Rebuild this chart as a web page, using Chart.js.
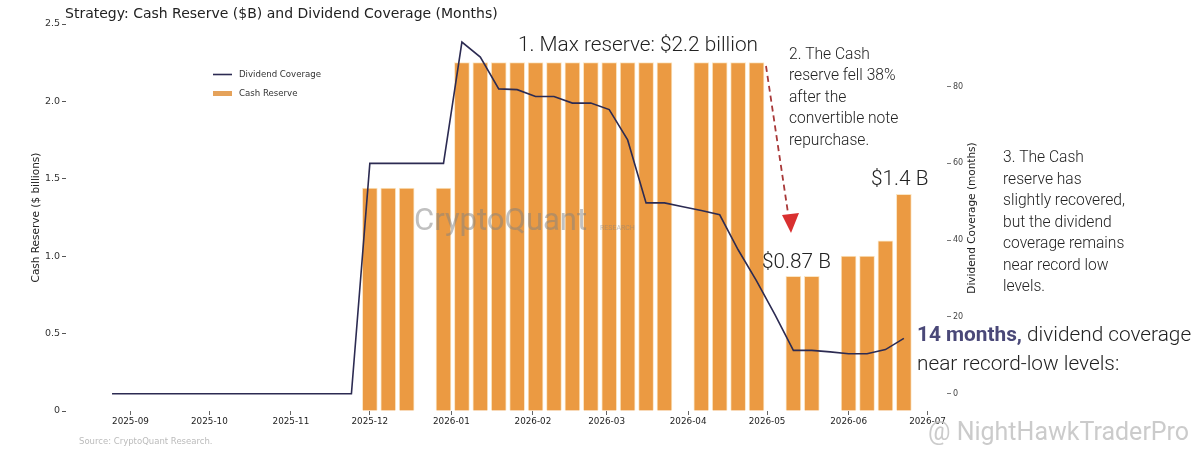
<!DOCTYPE html>
<html>
<head>
<meta charset="utf-8">
<script src="https://cdn.jsdelivr.net/npm/chart.js@4.4.1/dist/chart.umd.min.js"></script>
<style>
body { margin: 0; background: #fff; }
#wrap { width: 1200px; height: 458px; position: relative; }
</style>
</head>
<body>
<div id="wrap"><canvas id="mycanvas"></canvas></div>
<script>
// weekly cash reserve bars ($ billions)
var barDates = [
	'2025-12-01', '2025-12-08', '2025-12-15', '2025-12-29',
	'2026-01-05', '2026-01-12', '2026-01-19', '2026-01-26',
	'2026-02-02', '2026-02-09', '2026-02-16', '2026-02-23',
	'2026-03-02', '2026-03-09', '2026-03-16', '2026-03-23',
	'2026-04-06', '2026-04-13', '2026-04-20', '2026-04-27',
	'2026-05-11', '2026-05-18',
	'2026-06-01', '2026-06-08', '2026-06-15', '2026-06-22'
];
var cashReserve = [
	1.44, 1.44, 1.44, 1.44,
	2.25, 2.25, 2.25, 2.25,
	2.25, 2.25, 2.25, 2.25,
	2.25, 2.25, 2.25, 2.25,
	2.25, 2.25, 2.25, 2.25,
	0.87, 0.87,
	1.00, 1.00, 1.10, 1.40
];

// dividend coverage line (months)
var lineDates = [
	'2025-08-25', '2025-09-01', '2025-09-08', '2025-09-15', '2025-09-22', '2025-09-29',
	'2025-10-06', '2025-10-13', '2025-10-20', '2025-10-27',
	'2025-11-03', '2025-11-10', '2025-11-17', '2025-11-24',
	'2025-12-01', '2025-12-08', '2025-12-15', '2025-12-22', '2025-12-29',
	'2026-01-05', '2026-01-12', '2026-01-19', '2026-01-26',
	'2026-02-02', '2026-02-09', '2026-02-16', '2026-02-23',
	'2026-03-02', '2026-03-09', '2026-03-16', '2026-03-23', '2026-03-30',
	'2026-04-06', '2026-04-13', '2026-04-20', '2026-04-27',
	'2026-05-04', '2026-05-11', '2026-05-18', '2026-05-25',
	'2026-06-01', '2026-06-08', '2026-06-15', '2026-06-22'
];
var coverage = [
	0, 0, 0, 0, 0, 0,
	0, 0, 0, 0,
	0, 0, 0, 0,
	60, 60, 60, 60, 60,
	91.6, 87.7, 79.4, 79.2,
	77.4, 77.4, 75.7, 75.7,
	74.0, 66.1, 49.7, 49.7, 48.7,
	47.7, 46.6, 37.5, 29.4,
	20.6, 11.3, 11.3, 10.9,
	10.4, 10.4, 11.5, 14.4
];

var xTickLabels = ['2025-09', '2025-10', '2025-11', '2025-12', '2026-01', '2026-02',
	'2026-03', '2026-04', '2026-05', '2026-06', '2026-07'];
var cashTicks = [0, 0.5, 1.0, 1.5, 2.0, 2.5];
var coverageTicks = [0, 20, 40, 60, 80];

function dayNum(s) {
	var p = s.split('-');
	return Date.UTC(+p[0], +p[1] - 1, p[2] ? +p[2] : 1) / 86400000;
}

var lineColor = '#2c2b52';
var barColor = '#EB9A42';
var mplFont = "'DejaVu Sans', sans-serif";
var noteFont = "Roboto, 'Noto Sans', sans-serif";

var notes = {
	id: 'notes',
	afterDatasetsDraw: function(chart) {
		var c = chart.ctx;
		c.save();
		c.fillStyle = 'rgba(130,130,130,0.5)';
		c.textBaseline = 'middle';
		c.font = '400 31px ' + noteFont;
		c.fillText('CryptoQuant', 414, 222);
		c.font = '400 7px ' + noteFont;
		c.fillText('RESEARCH', 600, 228);
		c.restore();
	},
	afterDraw: function(chart) {
		var c = chart.ctx;
		c.save();
		c.textBaseline = 'middle';

		// title
		c.fillStyle = '#222';
		c.font = '14px ' + mplFont;
		c.fillText('Strategy: Cash Reserve ($B) and Dividend Coverage (Months)', 65, 14);

		// right axis title
		c.save();
		c.translate(972, 218);
		c.rotate(-Math.PI / 2);
		c.textAlign = 'center';
		c.font = '10.5px ' + mplFont;
		c.fillText('Dividend Coverage (months)', 0, 0);
		c.restore();

		// legend
		c.strokeStyle = lineColor;
		c.lineWidth = 1.6;
		c.beginPath();
		c.moveTo(213, 74.5);
		c.lineTo(232, 74.5);
		c.stroke();
		c.fillStyle = '#E5A25A';
		c.fillRect(213, 91, 19, 5);
		c.fillStyle = '#333';
		c.font = '8.6px ' + mplFont;
		c.fillText('Dividend Coverage', 239, 74.5);
		c.fillText('Cash Reserve', 239, 93.5);

		// source
		c.fillStyle = '#bbb';
		c.font = '8.5px ' + mplFont;
		c.fillText('Source: CryptoQuant Research.', 79, 442);

		// annotations
		c.fillStyle = '#222';
		c.font = '300 20.8px ' + noteFont;
		c.fillText('1. Max reserve: $2.2 billion', 518, 46);
		c.fillText('$1.4 B', 871, 180);
		c.fillText('$0.87 B', 762, 263);

		c.font = '300 15.6px ' + noteFont;
		var n2 = ['2. The Cash', 'reserve fell 38%', 'after the', 'convertible note', 'repurchase.'];
		for (var i = 0; i < n2.length; i++) c.fillText(n2[i], 789, 55 + i * 21.5);
		var n3 = ['3. The Cash', 'reserve has', 'slightly recovered,', 'but the dividend',
			'coverage remains', 'near record low', 'levels.'];
		for (var j = 0; j < n3.length; j++) c.fillText(n3[j], 1003, 158.5 + j * 21.5);

		c.font = '700 20.8px ' + noteFont;
		c.fillStyle = '#4a4878';
		c.fillText('14 months,', 917, 336);
		var w = c.measureText('14 months,').width;
		c.font = '300 20.8px ' + noteFont;
		c.fillStyle = '#222';
		c.fillText(' dividend coverage', 917 + w, 336);
		c.fillText('near record-low levels:', 917, 365);

		// dashed arrow
		c.strokeStyle = '#a83838';
		c.lineWidth = 1.8;
		c.setLineDash([6, 4]);
		c.beginPath();
		c.moveTo(766, 66);
		c.lineTo(788, 213);
		c.stroke();
		c.setLineDash([]);
		c.fillStyle = '#d93030';
		c.beginPath();
		c.moveTo(782, 215);
		c.lineTo(799, 213);
		c.lineTo(791, 233);
		c.closePath();
		c.fill();

		// watermark
		c.fillStyle = 'rgba(190,190,190,0.8)';
		c.font = '400 25px ' + noteFont;
		c.fillText('@ NightHawkTraderPro', 928, 434);
		c.restore();
	}
};

var ctx = document.getElementById('mycanvas');

var chart = new Chart(ctx, {
	type: 'bar',
	data: {
		datasets: [{
			type: 'line',
			label: 'Dividend Coverage',
			data: lineDates.map(function(d, i) { return { x: dayNum(d), y: coverage[i] }; }),
			yAxisID: 'y1',
			borderColor: lineColor,
			borderWidth: 1.6,
			pointRadius: 0,
			tension: 0,
			fill: false,
			order: 0
		}, {
			type: 'bar',
			label: 'Cash Reserve',
			data: barDates.map(function(d, i) { return { x: dayNum(d), y: cashReserve[i] }; }),
			yAxisID: 'y',
			backgroundColor: barColor,
			borderColor: '#FBE6C4',
			borderWidth: 1,
			barThickness: 15,
			order: 1
		}]
	},
	options: {
		responsive: true,
		maintainAspectRatio: false,
		animation: false,
		layout: { padding: { left: 0, right: 223, top: 24, bottom: 27 } },
		plugins: {
			legend: { display: false },
			tooltip: { enabled: false }
		},
		scales: {
			x: {
				type: 'linear',
				offset: false,
				min: dayNum('2025-08-08') - 0.5,
				max: dayNum('2026-07-08') + 0.4,
				afterBuildTicks: function(scale) {
					scale.ticks = xTickLabels.map(function(l) { return { value: dayNum(l) }; });
				},
				afterFit: function(scale) { scale.height = 20; },
				ticks: {
					autoSkip: false,
					maxRotation: 0,
					padding: 1,
					color: '#222',
					font: { family: mplFont, size: 8.8 },
					callback: function(v, i) { return xTickLabels[i]; }
				},
				grid: { offset: false, drawOnChartArea: false, drawTicks: true, tickLength: 4, color: '#666' },
				border: { display: false }
			},
			y: {
				position: 'left',
				min: 0,
				max: 2.5,
				afterBuildTicks: function(scale) {
					scale.ticks = cashTicks.map(function(v) { return { value: v }; });
				},
				afterFit: function(scale) { scale.width = 66; },
				ticks: {
					padding: 2,
					color: '#333',
					font: { family: mplFont, size: 9.5 },
					callback: function(v) { return v === 0 ? '0' : v.toFixed(1); }
				},
				title: {
					display: true,
					text: 'Cash Reserve ($ billions)',
					color: '#222',
					font: { family: mplFont, size: 10.5 },
					padding: { top: 30, bottom: 0 }
				},
				grid: { drawOnChartArea: false, drawTicks: true, tickLength: 4, color: '#555' },
				border: { display: false }
			},
			y1: {
				position: 'right',
				min: -4.5,
				max: 96.3,
				afterBuildTicks: function(scale) {
					scale.ticks = coverageTicks.map(function(v) { return { value: v }; });
				},
				afterFit: function(scale) { scale.width = 30; },
				ticks: {
					padding: 2,
					color: '#444',
					font: { family: mplFont, size: 8 }
				},
				grid: { drawOnChartArea: false, drawTicks: true, tickLength: 4, color: '#777' },
				border: { display: false }
			}
		}
	},
	plugins: [notes]
});
</script>
</body>
</html>
